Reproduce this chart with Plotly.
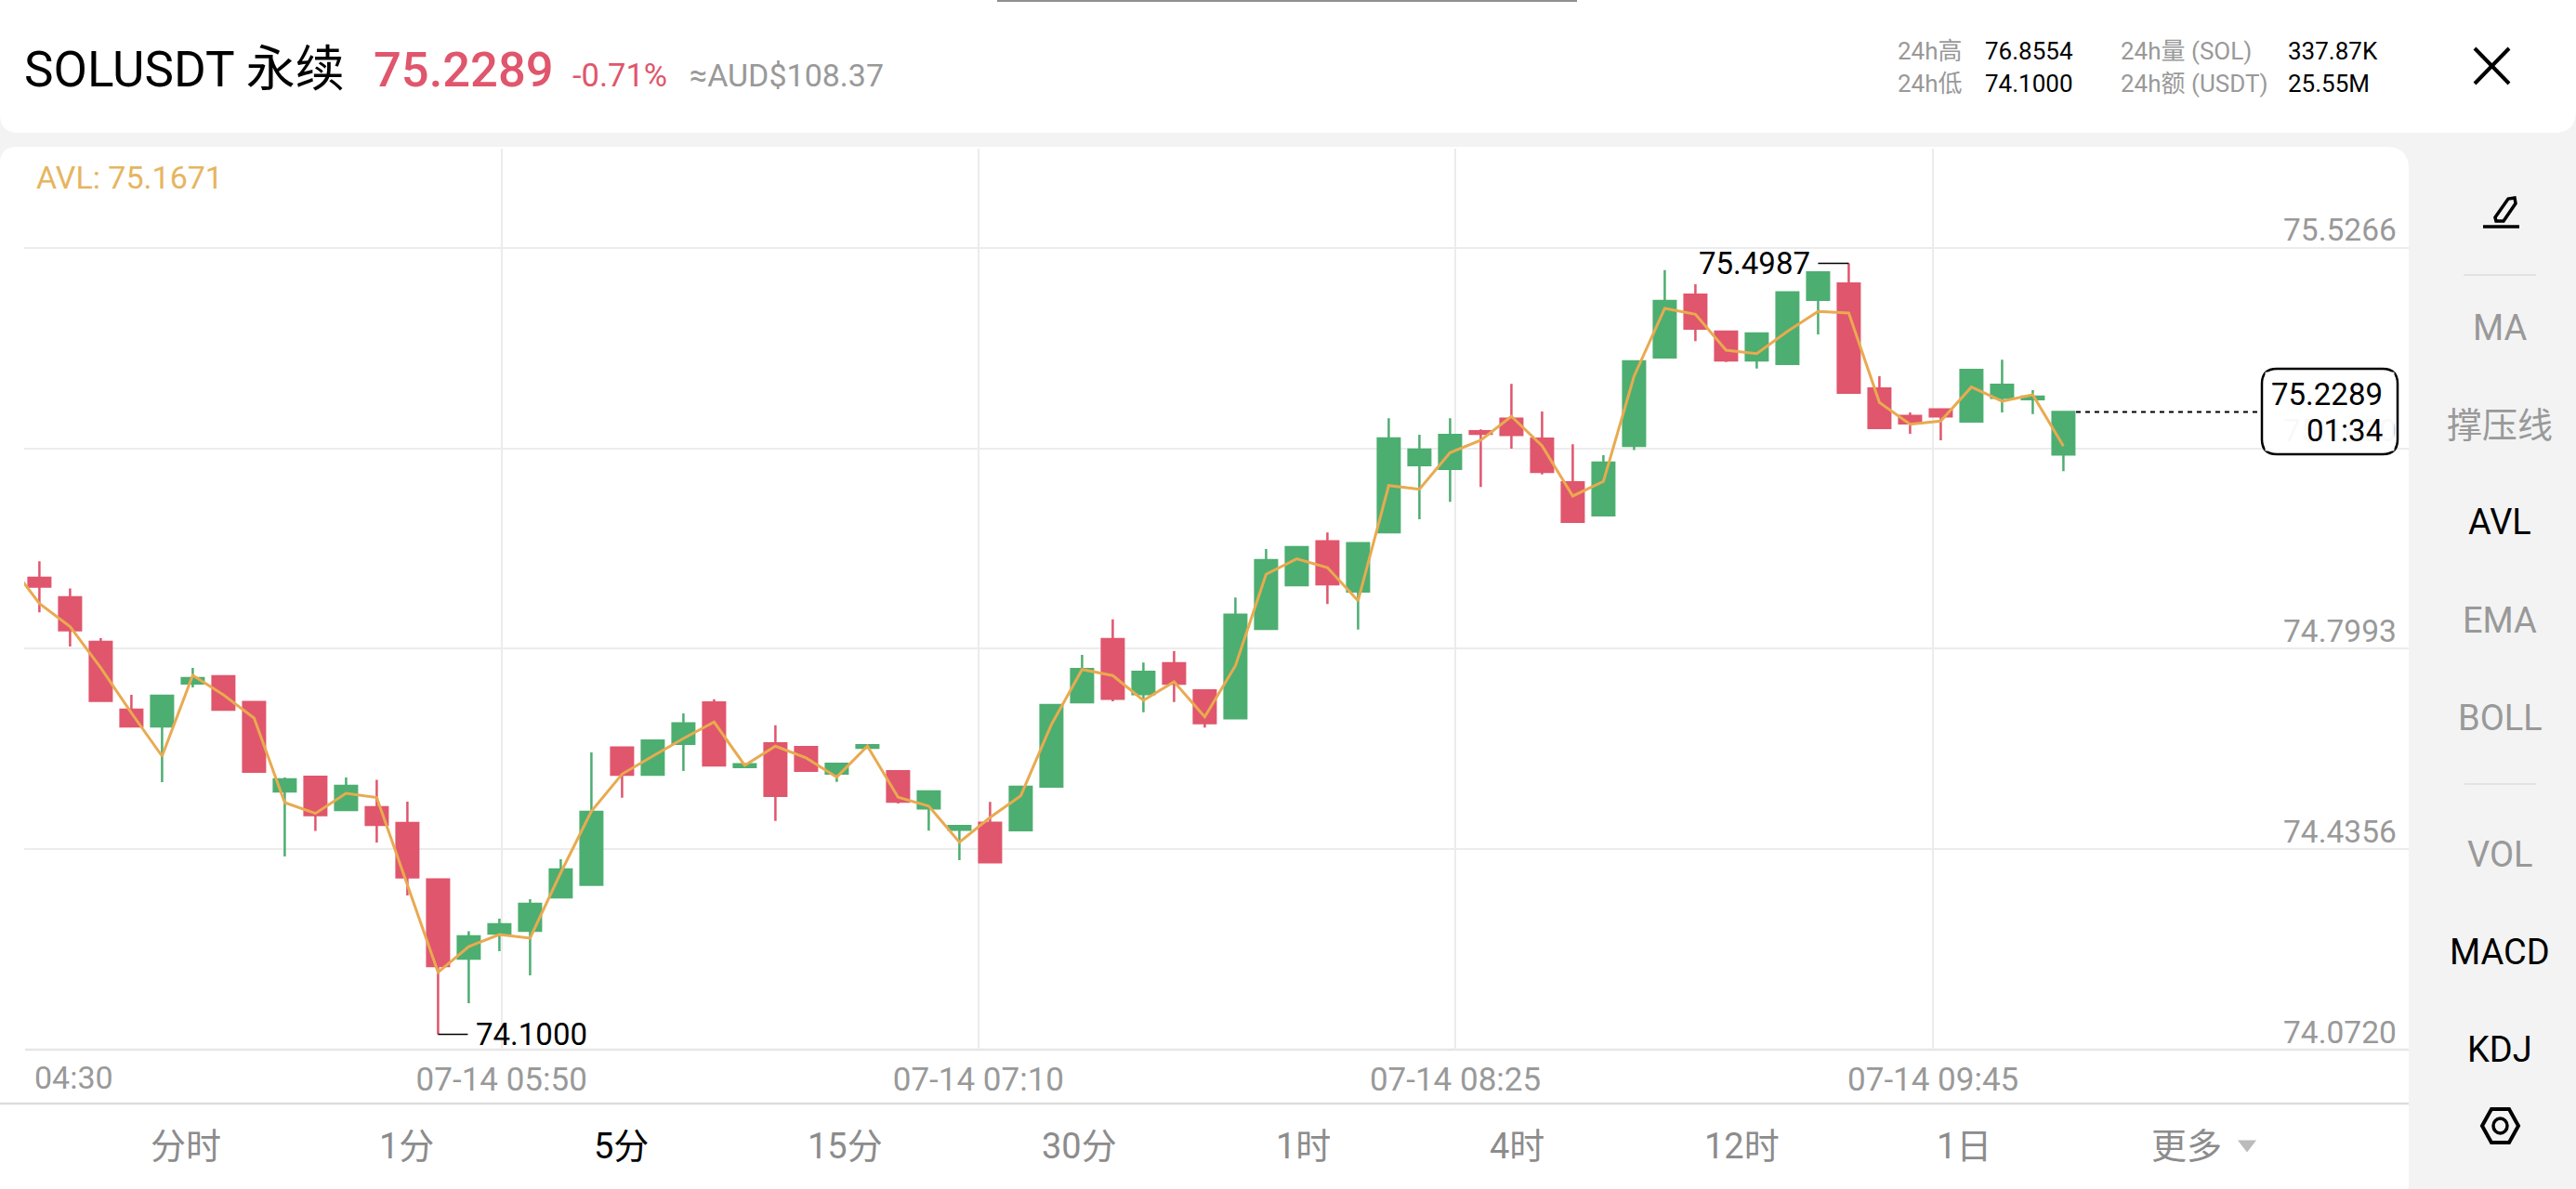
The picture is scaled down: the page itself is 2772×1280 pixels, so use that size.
import plotly.graph_objects as go

# 5-minute SOLUSDT perpetual candles, oldest first
opens = [74.9281, 74.8930, 74.8119, 74.6889, 74.6586, 74.7366, 74.7496, 74.7029, 74.5406, 74.5669,
         74.5069, 74.5119, 74.4833, 74.3808, 74.2372, 74.2827, 74.2878, 74.3484, 74.3712, 74.6203,
         74.5709, 74.6271, 74.7019, 74.5849, 74.6277, 74.6210, 74.5731, 74.6198, 74.5772, 74.5097,
         74.4710, 74.4838, 74.4703, 74.5495, 74.7024, 74.8170, 74.7171, 74.7732, 74.7238, 74.6732,
         74.8355, 74.9148, 74.9945, 74.9035, 75.0108, 75.1327, 75.1260, 75.1941, 75.2170, 75.1806,
         75.1014, 75.0417, 75.1676, 75.3282, 75.4418, 75.3749, 75.3227, 75.3164, 75.4327, 75.4620,
         75.2716, 75.2220, 75.2338, 75.2119, 75.2547, 75.2524, 75.1519]
highs = [74.9581, 74.9087, 74.8187, 74.7159, 74.7142, 74.7648, 74.7496, 74.7029, 74.5659, 74.5669,
         74.5659, 74.5615, 74.5220, 74.3808, 74.2869, 74.3097, 74.3451, 74.4175, 74.6114, 74.6203,
         74.6328, 74.6822, 74.7080, 74.5900, 74.6608, 74.6210, 74.5906, 74.6244, 74.5772, 74.5406,
         74.4777, 74.5215, 74.5490, 74.6973, 74.7884, 74.8529, 74.7744, 74.7951, 74.7238, 74.8923,
         74.9805, 74.9839, 75.0103, 74.9911, 75.2177, 75.1878, 75.2177, 75.1974, 75.2800, 75.2300,
         75.1705, 75.1507, 75.3210, 75.4867, 75.4609, 75.3749, 75.3715, 75.4462, 75.4823, 75.4987,
         75.2940, 75.2283, 75.2338, 75.3053, 75.3238, 75.2687, 75.2289]
lows = [74.8654, 74.8035, 74.7029, 74.6586, 74.5574, 74.7294, 74.6889, 74.5765, 74.4226, 74.4688,
        74.5069, 74.4479, 74.3518, 74.1000, 74.1563, 74.2507, 74.2069, 74.3484, 74.3712, 74.5293,
        74.5709, 74.5777, 74.5870, 74.5849, 74.4872, 74.5782, 74.5580, 74.6198, 74.5187, 74.4693,
        74.4159, 74.4120, 74.4703, 74.5495, 74.7024, 74.7041, 74.6844, 74.7029, 74.6564, 74.6732,
        74.8355, 74.9148, 74.8806, 74.8344, 75.0108, 75.0344, 75.0660, 75.0929, 75.1625, 75.1158,
        75.0299, 75.0417, 75.1600, 75.3282, 75.3575, 75.3198, 75.3080, 75.3164, 75.3698, 75.2642,
        75.2001, 75.1895, 75.1777, 75.2119, 75.2283, 75.2254, 75.1216]
closes = [74.9124, 74.8329, 74.7048, 74.6586, 74.7142, 74.7462, 74.6889, 74.5765, 74.5625, 74.4976,
          74.5507, 74.4799, 74.3845, 74.2237, 74.2776, 74.2996, 74.3366, 74.3990, 74.5035, 74.5709,
          74.6328, 74.6641, 74.5878, 74.5900, 74.5327, 74.5782, 74.5906, 74.6244, 74.5220, 74.5406,
          74.4777, 74.4120, 74.5490, 74.6973, 74.7626, 74.7086, 74.7575, 74.7361, 74.6645, 74.8613,
          74.9603, 74.9839, 74.9164, 74.9911, 75.1811, 75.1608, 75.1873, 75.1895, 75.1873, 75.1204,
          75.0299, 75.1372, 75.3210, 75.4305, 75.3805, 75.3227, 75.3715, 75.4462, 75.4823, 75.2642,
          75.2001, 75.2085, 75.2210, 75.3053, 75.2783, 75.2569, 75.2289]

# Average line; its first point lies one bar before the visible candles
avl_values = [74.9552, 74.8817, 74.8396, 74.7648, 74.6830, 74.6046, 74.7513, 74.7159, 74.6737, 74.5204,
              74.5006, 74.5372, 74.5295, 74.3720, 74.2123, 74.2591, 74.2810, 74.2743, 74.3931, 74.5047,
              74.5721, 74.6046, 74.6367, 74.6665, 74.5878, 74.6227, 74.6013, 74.5664, 74.6227, 74.5300,
              74.5141, 74.4484, 74.4934, 74.5327, 74.6619, 74.7619, 74.7508, 74.7058, 74.7395, 74.6759,
              74.7686, 74.9345, 74.9625, 74.9468, 74.8866, 75.0956, 75.0889, 75.1553, 75.1777, 75.2210,
              75.1676, 75.0766, 75.1030, 75.2940, 75.4170, 75.4064, 75.3412, 75.3350, 75.3754, 75.4115,
              75.4086, 75.2463, 75.2069, 75.2126, 75.2743, 75.2485, 75.2603, 75.1671]

price_ticks = [75.5266, 75.1630, 74.7993, 74.4356, 74.0720]
price_labels = ["75.5266", "75.1630", "74.7993", "74.4356", "74.0720"]
time_ticks = [15.07, 30.62, 46.17, 61.75]
time_labels = ["07-14 05:50", "07-14 07:10", "07-14 08:25", "07-14 09:45"]
interval_labels = ["分时", "1分", "5分", "15分", "30分", "1时", "4时", "12时", "1日", "更多"]
indicator_labels = ["MA", "撑压线", "AVL", "EMA", "BOLL", "VOL", "MACD", "KDJ"]

last_price = 75.2289
period_high = 75.4987
period_low = 74.1000
high_bar = 59
low_bar = 13

W, H = 2772, 1280
FONT = "Roboto, 'Noto Sans CJK SC', sans-serif"
GREEN, RED = "#4dae71", "#e0566c"
GREY, PAGE_BG, GRID = "#999999", "#f3f3f3", "#ececec"


def px(x):
    return x / W


def py(y):
    return 1 - y / H


def label(text, x, y, size, color="#000000", anchor="left", weight=None, **kw):
    font = dict(family=FONT, size=size, color=color)
    if weight:
        font["weight"] = weight
    return dict(text=text, x=px(x), y=py(y), xref="paper", yref="paper", showarrow=False,
                xanchor=anchor, yanchor="middle", font=font, **kw)


def panel_path(x0, y0, x1, y1, tl=0, tr=0, br=0, bl=0):
    """Rounded rectangle in paper fractions, from page pixel coordinates."""
    p = lambda x, y: f"{px(x):.5f},{py(y):.5f}"
    return (f"M{p(x0 + tl, y0)} L{p(x1 - tr, y0)} Q{p(x1, y0)} {p(x1, y0 + tr)} "
            f"L{p(x1, y1 - br)} Q{p(x1, y1)} {p(x1 - br, y1)} "
            f"L{p(x0 + bl, y1)} Q{p(x0, y1)} {p(x0, y1 - bl)} "
            f"L{p(x0, y0 + tl)} Q{p(x0, y0)} {p(x0 + tl, y0)} Z")


def poly_path(points, close=True):
    body = " L".join(f"{px(x):.5f},{py(y):.5f}" for x, y in points)
    return "M" + body + (" Z" if close else "")


def paper_shape(path, fill="rgba(0,0,0,0)", line="rgba(0,0,0,0)", width=0, layer="below"):
    return dict(type="path", xref="paper", yref="paper", path=path, fillcolor=fill,
                line=dict(color=line, width=width), layer=layer)


def paper_line(x0, y0, x1, y1, color, width, layer="below"):
    return dict(type="line", xref="paper", yref="paper", x0=px(x0), y0=py(y0), x1=px(x1), y1=py(y1),
                line=dict(color=color, width=width), layer=layer)


bars = list(range(len(opens)))

fig = go.Figure()
fig.add_trace(go.Candlestick(
    x=bars, open=opens, high=highs, low=lows, close=closes,
    increasing=dict(line=dict(color=GREEN, width=2.5), fillcolor=GREEN),
    decreasing=dict(line=dict(color=RED, width=2.5), fillcolor=RED),
    hoverinfo="skip",
))
fig.add_trace(go.Scatter(
    x=list(range(-1, len(opens))), y=avl_values, mode="lines",
    line=dict(color="#e9aa50", width=3), hoverinfo="skip",
))

shapes = [
    # header card, chart card, top handle
    paper_shape(panel_path(0, 0, W, 143, br=24, bl=20), fill="#ffffff"),
    paper_shape(panel_path(0, 158, 2592, H, tl=18, tr=24), fill="#ffffff"),
    paper_shape(panel_path(1073, 0, 1697, 2), fill="#8f8f8f"),
    # axis rules under the plot and above the interval bar
    paper_line(27, 1130, 2592, 1130, "#e6e6e6", 2.5),
    paper_line(0, 1188, 2592, 1188, "#dcdcdc", 2.5),
    # side toolbar separators
    paper_line(2651, 296, 2729, 296, "#dddddd", 1.5),
    paper_line(2652, 844, 2729, 844, "#dddddd", 1.5),
    # close button
    paper_line(2663, 52, 2700, 90, "#000000", 4, "above"),
    paper_line(2700, 52, 2663, 90, "#000000", 4, "above"),
    # pencil button
    paper_line(2672, 244, 2711, 244, "#000000", 3.5, "above"),
    paper_shape(poly_path([(2685, 234), (2699, 214), (2706, 213), (2707, 219), (2694, 238), (2686, 238)]),
                line="#000000", width=3.5, layer="above"),
    # settings button
    paper_shape(poly_path([(2671, 1212), (2681, 1194), (2700, 1194), (2710, 1212), (2700, 1230), (2681, 1230)]),
                line="#000000", width=4, layer="above"),
    dict(type="circle", xref="paper", yref="paper", x0=px(2683), x1=px(2698), y0=py(1204), y1=py(1220),
         line=dict(color="#000000", width=3.5), layer="above"),
    # interval menu caret
    paper_shape(poly_path([(2411, 1229), (2425, 1229), (2418, 1238)]), fill="#bbbbbb", line="#bbbbbb", width=3,
                layer="above"),
    # last price leader
    dict(type="line", xref="x", yref="y", x0=66.41, x1=72.4, y0=last_price, y1=last_price,
         line=dict(color="#000000", width=2, dash="5px,5px"), layer="above"),
    # high and low leaders
    dict(type="line", xref="x", yref="y", x0=high_bar, x1=high_bar - 1, y0=period_high, y1=period_high,
         line=dict(color="#000000", width=1.5), layer="above"),
    dict(type="line", xref="x", yref="y", x0=low_bar, x1=low_bar + 0.97, y0=period_low, y1=period_low,
         line=dict(color="#000000", width=1.5), layer="above"),
]

annotations = []

# Price scale sits inside the plot, just above each grid line
for value, text in zip(price_ticks, price_labels):
    annotations.append(dict(text=text, x=px(2581), y=value, xref="paper", yref="y", yshift=19, showarrow=False,
                            xanchor="right", yanchor="middle", font=dict(family=FONT, size=33.5, color=GREY)))

# Last price tag; its veil comes after the scale so it mostly hides the label behind it
annotations.append(dict(text=" ", x=px(2507), y=py(443), xref="paper", yref="paper", showarrow=False,
                        xanchor="center", yanchor="middle", width=138, height=84, borderpad=0,
                        bgcolor="rgba(255,255,255,0.93)", font=dict(family=FONT, size=12)))

annotations += [
    label("75.2289", 2566, 424, 33, anchor="right"),
    label("01:34", 2566, 463, 33, anchor="right"),
    label("SOLUSDT 永续", 24, 75, 53),
    label("75.2289", 400, 75, 52.5, RED, weight=500),
    label("-0.71%", 614, 81, 34.5, RED),
    label("≈AUD$108.37", 740, 81, 34, GREY),
    label("AVL: 75.1671", 37, 191, 34, "#e6b55f"),
    label("24h高", 2040, 55, 26, GREY),
    label("76.8554", 2134, 55, 26),
    label("24h量 (SOL)", 2280, 55, 26, GREY),
    label("337.87K", 2460, 55, 26),
    label("24h低", 2040, 90, 26, GREY),
    label("74.1000", 2134, 90, 26),
    label("24h额 (USDT)", 2280, 90, 26, GREY),
    label("25.55M", 2460, 90, 26),
    label("04:30", 35, 1160, 34, GREY),
    dict(text=f"{period_high:.4f}", x=high_bar - 1, y=period_high, xref="x", yref="y", xshift=-6,
         showarrow=False, xanchor="right", yanchor="middle", font=dict(family=FONT, size=33, color="#000000")),
    dict(text=f"{period_low:.4f}", x=low_bar + 0.97, y=period_low, xref="x", yref="y", xshift=7,
         showarrow=False, xanchor="left", yanchor="middle", font=dict(family=FONT, size=33, color="#000000")),
]

interval_centres = [200, 437, 668, 909, 1161, 1402, 1632, 1874, 2113, 2353]
for name, cx in zip(interval_labels, interval_centres):
    annotations.append(label(name, cx, 1234, 38, "#000000" if name == "5分" else "#8c8c8c", anchor="center"))

indicator_rows = [353, 458, 562, 668, 773, 920, 1025, 1130]
for name, cy in zip(indicator_labels, indicator_rows):
    annotations.append(label(name, 2690, cy, 38, "#000000" if name in ("AVL", "MACD", "KDJ") else GREY,
                             anchor="center"))

# Rounded outline of the last price tag
shapes.append(paper_shape(panel_path(2434, 397, 2580, 489, tl=16, tr=16, br=16, bl=16),
                          line="#000000", width=2.5, layer="above"))

fig.update_layout(
    width=W, height=H, margin=dict(l=0, r=0, t=0, b=0), autosize=False,
    paper_bgcolor=PAGE_BG, plot_bgcolor="rgba(0,0,0,0)", showlegend=False, boxgap=0.11, boxgroupgap=0.2,
    shapes=shapes, annotations=annotations, font=dict(family=FONT),
    xaxis=dict(
        domain=[px(26), px(2592)], range=[-0.497, 77.26], rangeslider=dict(visible=False),
        tickmode="array", tickvals=time_ticks, ticktext=time_labels, showgrid=True, gridcolor=GRID, gridwidth=2,
        zeroline=False, showline=False, ticks="", ticklabelstandoff=8,
        tickfont=dict(family=FONT, size=35, color=GREY),
    ),
    yaxis=dict(
        domain=[py(1130), py(160)], range=[74.0720, 75.7069], side="right",
        tickmode="array", tickvals=price_ticks, showticklabels=False,
        showgrid=True, gridcolor=GRID, gridwidth=2, zeroline=False, showline=False, ticks="",
    ),
)

fig.write_html("out.html", config=dict(displayModeBar=False))
